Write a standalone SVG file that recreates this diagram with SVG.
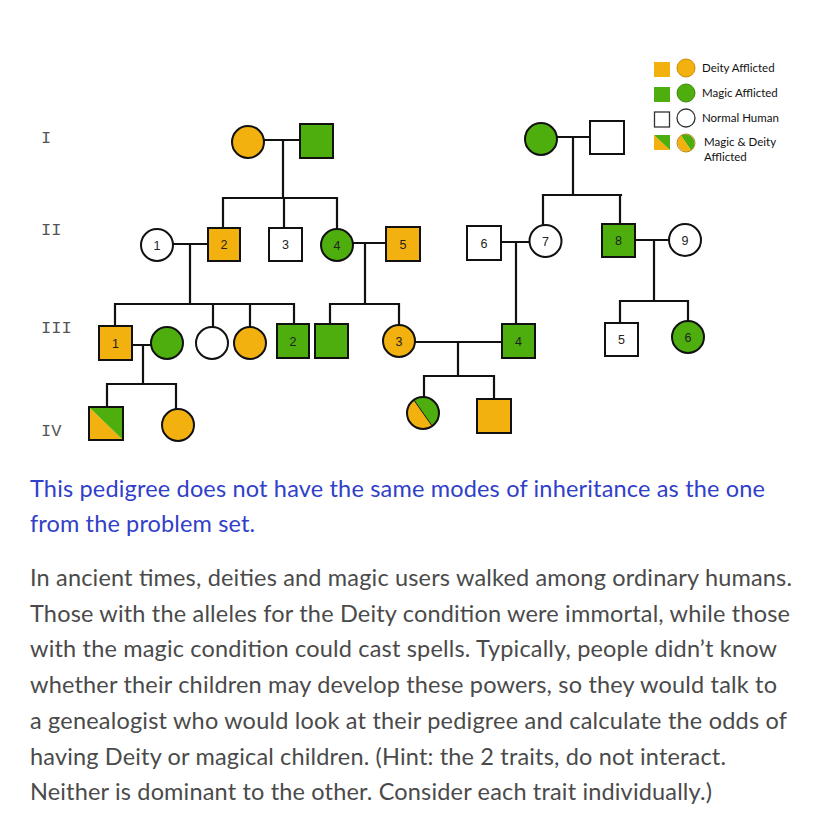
<svg xmlns="http://www.w3.org/2000/svg" width="814" height="829" viewBox="0 0 814 829">
<style>
.ln{stroke:#111;stroke-width:2.2;fill:none;stroke-linecap:square}
.s{stroke:#111;stroke-width:2}
.o{fill:#F2B10F}.g{fill:#4DAE0E}.w{fill:#fff}
.num{font-family:"Liberation Sans",Arial,sans-serif;font-size:12.5px;text-anchor:middle;fill:#222}
.gen{font-family:"Liberation Mono","DejaVu Sans Mono",monospace;font-size:17px;fill:#555}
.leg{font-family:Lato,"Liberation Sans",sans-serif;font-size:11.5px;fill:#111}
.p{font-family:Lato,"Liberation Sans",sans-serif;font-size:23.5px}
.blue{fill:#3140c8}.gray{fill:#4a4a4a}
</style>
<rect width="814" height="829" fill="#fff"/>

<g id="legend">
  <rect x="654" y="62" width="16" height="15" class="o"/>
  <circle cx="686" cy="68" r="9" class="o" stroke="#c98c00" stroke-width="1"/>
  <text x="702" y="72" class="leg">Deity Afflicted</text>
  <rect x="654" y="87" width="16" height="15" class="g"/>
  <circle cx="686" cy="93" r="9" class="g" stroke="#3a8a08" stroke-width="1"/>
  <text x="702" y="97" class="leg">Magic Afflicted</text>
  <rect x="654.5" y="112" width="15" height="15" class="w" stroke="#333" stroke-width="1.3"/>
  <circle cx="686" cy="118" r="9" class="w" stroke="#333" stroke-width="1.3"/>
  <text x="702" y="122" class="leg">Normal Human</text>
  <polygon points="654,135 654,150 670,150" class="o"/>
  <polygon points="654,135 670,135 670,150" class="g"/>
  <path d="M680.9,135.6 A9,9 0 0 1 691.1,150.4 Z" class="g"/>
  <path d="M691.1,150.4 A9,9 0 0 1 680.9,135.6 Z" class="o"/>
  <circle cx="686" cy="143" r="9" fill="none" stroke="#b58a1a" stroke-width="1"/>
  <text x="704" y="146" class="leg">Magic &amp; Deity</text>
  <text x="704" y="161" class="leg">Afflicted</text>
</g>

<g id="gen-labels">
  <text x="41" y="143" class="gen">I</text>
  <text x="41" y="235" class="gen">II</text>
  <text x="41" y="333" class="gen">III</text>
  <text x="41" y="436" class="gen">IV</text>
</g>

<g id="connectors">
  <path class="ln" d="M264,140H300 M283,140V198 M223,198H337 M223,198V228 M284,198V228 M337,198V229"/>
  <path class="ln" d="M557,137H590 M573,137V195 M543,195H621 M543,195V225 M620,195V224"/>
  <path class="ln" d="M173,244H208 M190,244V304"/>
  <path class="ln" d="M353,243H386 M365,243V304"/>
  <path class="ln" d="M501,242H530 M516,242V324"/>
  <path class="ln" d="M635,240H669 M654,240V301"/>
  <path class="ln" d="M115,304H294 M115,304V326 M213,304V327 M250,304V327 M294,304V324"/>
  <path class="ln" d="M330,304H399 M330,304V324 M399,304V325"/>
  <path class="ln" d="M620,301H688 M620,301V323 M688,301V321"/>
  <path class="ln" d="M132,345H151 M143,345V384"/>
  <path class="ln" d="M415,342H502 M458,342V376"/>
  <path class="ln" d="M107,384H176 M107,384V407 M176,384V409"/>
  <path class="ln" d="M424,376H494 M424,376V397 M494,376V399"/>
</g>

<g id="I-1"><circle cx="248" cy="142" r="16" class="o s"/></g>
<g id="I-2"><rect x="300" y="124" width="33" height="34" class="g s"/></g>
<g id="I-3"><circle cx="541" cy="139" r="16" class="g s"/></g>
<g id="I-4"><rect x="590" y="121" width="34" height="33" class="w s"/></g>

<g id="II-1"><circle cx="157" cy="245" r="16" class="w s"/><text x="157" y="249.5" class="num">1</text></g>
<g id="II-2"><rect x="208" y="228" width="32" height="33" class="o s"/><text x="224" y="249" class="num">2</text></g>
<g id="II-3"><rect x="269" y="228" width="33" height="33" class="w s"/><text x="285.5" y="249" class="num">3</text></g>
<g id="II-4"><circle cx="337" cy="245" r="16" class="g s"/><text x="337" y="249.5" class="num">4</text></g>
<g id="II-5"><rect x="386" y="227" width="34" height="34" class="o s"/><text x="403" y="248.5" class="num">5</text></g>
<g id="II-6"><rect x="467" y="226" width="34" height="34" class="w s"/><text x="484" y="247.5" class="num">6</text></g>
<g id="II-7"><circle cx="545.5" cy="241" r="16" class="w s"/><text x="545.5" y="245.5" class="num">7</text></g>
<g id="II-8"><rect x="602" y="224" width="33" height="33" class="g s"/><text x="618.5" y="245" class="num">8</text></g>
<g id="II-9"><circle cx="685" cy="240" r="16" class="w s"/><text x="685" y="244.5" class="num">9</text></g>

<g id="III-1"><rect x="99" y="326" width="33" height="34" class="o s"/><text x="115.5" y="347.5" class="num">1</text></g>
<g id="III-1-spouse"><circle cx="167" cy="343" r="16" class="g s"/></g>
<g id="III-a"><circle cx="212" cy="343" r="16" class="w s"/></g>
<g id="III-b"><circle cx="250" cy="343" r="16" class="o s"/></g>
<g id="III-2"><rect x="277" y="324" width="32" height="34" class="g s"/><text x="293" y="345.5" class="num">2</text></g>
<g id="III-c"><rect x="315" y="324" width="33" height="34" class="g s"/></g>
<g id="III-3"><circle cx="399" cy="341" r="16" class="o s"/><text x="399" y="345.5" class="num">3</text></g>
<g id="III-4"><rect x="502" y="324" width="33" height="34" class="g s"/><text x="518.5" y="345.5" class="num">4</text></g>
<g id="III-5"><rect x="605" y="323" width="33" height="33" class="w s"/><text x="621.5" y="344" class="num">5</text></g>
<g id="III-6"><circle cx="688" cy="337" r="16" class="g s"/><text x="688" y="341.5" class="num">6</text></g>

<g id="IV-1">
  <polygon points="89,407 89,440 123,440" class="o"/>
  <polygon points="89,407 123,407 123,440" class="g"/>
  <rect x="89" y="407" width="34" height="33" fill="none" class="s"/>
</g>
<g id="IV-2"><circle cx="178" cy="425" r="16" class="o s"/></g>
<g id="IV-3">
  <path d="M413.8,399.9 A16,16 0 0 1 432.2,426.1 Z" class="g"/>
  <path d="M432.2,426.1 A16,16 0 0 1 413.8,399.9 Z" class="o"/>
  <line x1="413.8" y1="399.9" x2="432.2" y2="426.1" stroke="#111" stroke-width="1"/>
  <circle cx="423" cy="413" r="16" fill="none" class="s"/>
</g>
<g id="IV-4"><rect x="477" y="399" width="34" height="34" class="o s"/></g>

<g id="caption">
  <text x="30" y="497" class="p blue" textLength="735" lengthAdjust="spacing">This pedigree does not have the same modes of inheritance as the one</text>
  <text x="30" y="532" class="p blue" textLength="225" lengthAdjust="spacing">from the problem set.</text>
</g>
<g id="paragraph">
  <text x="30" y="586" class="p gray" textLength="762" lengthAdjust="spacing">In ancient times, deities and magic users walked among ordinary humans.</text>
  <text x="30" y="621.7" class="p gray" textLength="760" lengthAdjust="spacing">Those with the alleles for the Deity condition were immortal, while those</text>
  <text x="30" y="657.4" class="p gray" textLength="747" lengthAdjust="spacing">with the magic condition could cast spells. Typically, people didn’t know</text>
  <text x="30" y="693.1" class="p gray" textLength="747" lengthAdjust="spacing">whether their children may develop these powers, so they would talk to</text>
  <text x="30" y="728.8" class="p gray" textLength="757" lengthAdjust="spacing">a genealogist who would look at their pedigree and calculate the odds of</text>
  <text x="30" y="764.5" class="p gray" textLength="696" lengthAdjust="spacing">having Deity or magical children. (Hint: the 2 traits, do not interact.</text>
  <text x="30" y="800.2" class="p gray" textLength="682" lengthAdjust="spacing">Neither is dominant to the other. Consider each trait individually.)</text>
</g>
</svg>
